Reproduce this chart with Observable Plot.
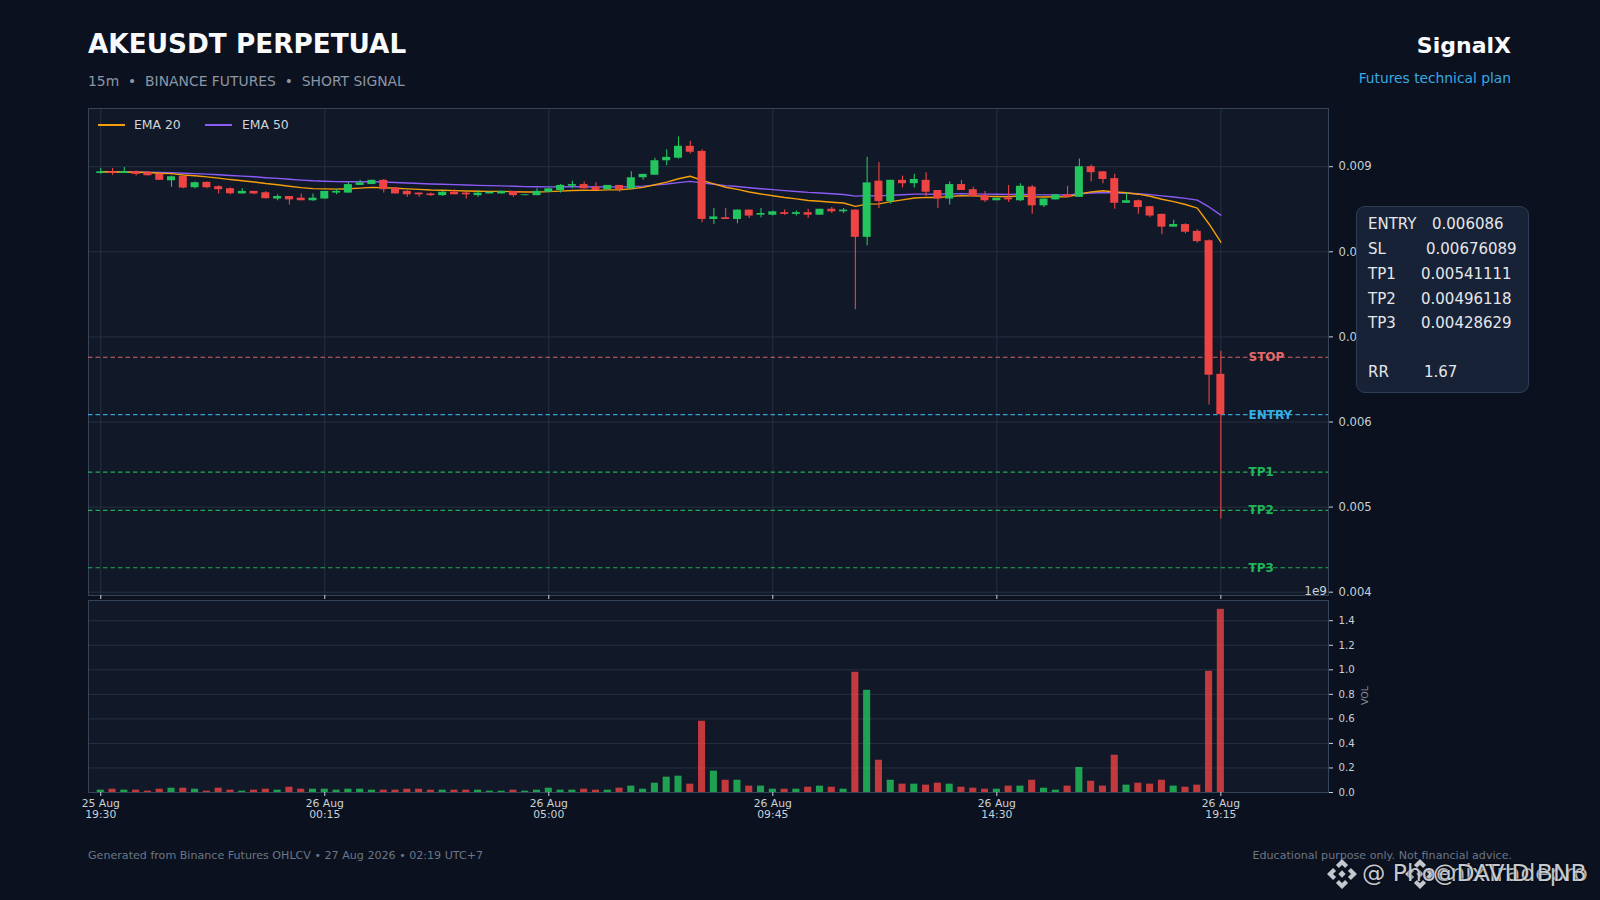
<!DOCTYPE html>
<html>
<head>
<meta charset="utf-8">
<script src="https://cdn.jsdelivr.net/npm/d3@7"></script>
<script src="https://cdn.jsdelivr.net/npm/@observablehq/plot@0.6"></script>
<style>
html,body{margin:0;padding:0;background:#0b111e;}
#page{position:relative;width:1600px;height:900px;overflow:hidden;background:#0b111e;font-family:"DejaVu Sans",sans-serif;}
.t{position:absolute;white-space:pre;}
#price,#vol{position:absolute;left:0;}
#price{top:100px;}
#vol{top:595px;}
</style>
</head>
<body>
<div id="page">
  <div id="price"></div>
  <div id="vol"></div>

  <div class="t" style="left:88px;top:29px;line-height:30px;font-size:26.3px;font-weight:bold;color:#f8fafc;">AKEUSDT PERPETUAL</div>
  <div class="t" style="left:88px;top:72px;line-height:18px;font-size:13.9px;color:#8b96a6;">15m  •  BINANCE FUTURES  •  SHORT SIGNAL</div>
  <div class="t" style="right:89px;top:33px;line-height:26px;font-size:22px;font-weight:bold;color:#f8fafc;">SignalX</div>
  <div class="t" style="right:89px;top:69px;line-height:18px;font-size:13.8px;color:#38a9e2;">Futures technical plan</div>

  <!-- legend -->
  <div style="position:absolute;left:98px;top:124px;width:27px;height:1.6px;background:#f59e0b;"></div>
  <div class="t" style="left:134px;top:117px;line-height:16px;font-size:12.4px;color:#d1d5db;">EMA 20</div>
  <div style="position:absolute;left:205px;top:124px;width:27px;height:1.6px;background:#8b5cf6;"></div>
  <div class="t" style="left:242px;top:117px;line-height:16px;font-size:12.4px;color:#d1d5db;">EMA 50</div>

  <!-- info box -->
  <div style="position:absolute;left:1356px;top:206px;width:171px;height:185px;border:1px solid #2f3d55;border-radius:9px;background:#172236;"></div>
  <div id="info"></div>

  <div class="t" style="right:273px;top:583px;line-height:16px;font-size:12px;color:#c9d1d9;">1e9</div>
  <div class="t" style="left:1357px;top:689px;line-height:16px;font-size:9.5px;color:#8b949e;transform:rotate(-90deg);transform-origin:8px 8px;">VOL</div>

  <div class="t" style="left:88px;top:848px;line-height:16px;font-size:11.1px;color:#6b7686;">Generated from Binance Futures OHLCV • 27 Aug 2026 • 02:19 UTC+7</div>
  <div class="t" style="right:88px;top:848px;line-height:16px;font-size:11.1px;color:#6b7686;">Educational purpose only. Not financial advice.</div>

  <!-- watermark -->
  <svg style="position:absolute;left:1326px;top:858px;" width="32" height="32" viewBox="-16 -16 32 32">
    <g fill="none" stroke="#d7dbe1" stroke-opacity="0.9" transform="rotate(45)">
      <rect x="-8.5" y="-8.5" width="17" height="17" stroke-width="4.2" stroke-dasharray="6.5 4 13 4 13 4 13 4 6.5"/>
      <rect x="-2.6" y="-2.6" width="5.2" height="5.2" fill="#d7dbe1" fill-opacity="0.9" stroke="none"/>
    </g>
  </svg>
  <svg style="position:absolute;left:1404px;top:858px;" width="32" height="32" viewBox="-16 -16 32 32">
    <g fill="none" stroke="#d7dbe1" stroke-opacity="0.9" transform="rotate(45)">
      <rect x="-8.5" y="-8.5" width="17" height="17" stroke-width="4.2" stroke-dasharray="6.5 4 13 4 13 4 13 4 6.5"/>
      <rect x="-2.6" y="-2.6" width="5.2" height="5.2" fill="#d7dbe1" fill-opacity="0.9" stroke="none"/>
    </g>
  </svg>
  <div class="t" style="left:1362px;top:858px;line-height:30px;font-size:23.4px;color:rgba(225,229,235,0.88);text-shadow:0 0 2px #000;">@ PhoenixTradepro</div>
  <div class="t" style="left:1433px;top:858px;line-height:30px;font-size:23.4px;color:rgba(225,229,235,0.88);text-shadow:0 0 2px #000;">@DAVID BNB</div>
</div>

<script>
// ---- data ----
const opens  = [0.00892,0.00894,0.00892,0.00894,0.00893,0.00891,0.008835,0.008886,0.008753,0.008816,
                0.008765,0.008741,0.00868,0.00871,0.008694,0.00862,0.00865,0.00863,0.00860,0.00862,
                0.00869,0.00869,0.00878,0.00879,0.00884,0.00875,0.00871,0.00869,0.00868,0.00866,
                0.00870,0.00869,0.00866,0.00868,0.00868,0.00871,0.00866,0.00866,0.00870,0.00872,
                0.00877,0.00879,0.00876,0.00873,0.00878,0.00874,0.00887,0.00890,0.00907,0.00910,
                0.00924,0.00918,0.00838,0.00840,0.00838,0.00849,0.00843,0.00843,0.00846,0.00844,
                0.00846,0.00843,0.00850,0.00847,0.00849,0.00817,0.00883,0.00859,0.00884,0.00880,
                0.00884,0.00872,0.00862,0.00879,0.00873,0.00866,0.00860,0.00863,0.00860,0.00876,
                0.00854,0.00861,0.00867,0.00864,0.00900,0.00894,0.00886,0.00857,0.00860,0.00853,
                0.00844,0.00829,0.00832,0.00824,0.00813,0.00656];
const highs  = [0.00898,0.00898,0.00899,0.00895,0.00894,0.00892,0.00889,0.00889,0.00882,0.00882,
                0.008776,0.00875,0.00874,0.00871,0.00871,0.00867,0.00865,0.00868,0.00868,0.00871,
                0.00873,0.00881,0.00884,0.00884,0.00885,0.00875,0.00872,0.00869,0.00869,0.00871,
                0.00873,0.00870,0.00872,0.00870,0.00871,0.00871,0.00867,0.00874,0.00875,0.00879,
                0.00883,0.00882,0.00881,0.00878,0.00878,0.00894,0.00891,0.00910,0.00920,0.00935,
                0.00930,0.00920,0.00851,0.00851,0.00849,0.00849,0.00851,0.00848,0.00849,0.00848,
                0.00850,0.00850,0.00852,0.00851,0.00849,0.00911,0.00905,0.00884,0.00889,0.00891,
                0.00893,0.00872,0.00882,0.00884,0.00876,0.00871,0.00863,0.00878,0.00880,0.00878,
                0.00862,0.00867,0.00877,0.00909,0.00902,0.00894,0.00891,0.00869,0.00861,0.00853,
                0.00844,0.00837,0.00833,0.00826,0.00814,0.00683];
const lows   = [0.00891,0.00890,0.00892,0.00889,0.00889,0.00884,0.008757,0.00874,0.00874,0.00874,
                0.00868,0.00867,0.00868,0.00867,0.00862,0.00860,0.00855,0.00860,0.00859,0.00862,
                0.00867,0.00869,0.00878,0.00879,0.00869,0.00868,0.00864,0.00864,0.00865,0.00865,
                0.00867,0.00862,0.00864,0.00868,0.00868,0.00864,0.00866,0.00866,0.00870,0.00869,
                0.00874,0.00874,0.00872,0.00873,0.00870,0.00873,0.00884,0.00890,0.00901,0.00909,
                0.00915,0.00834,0.00832,0.00838,0.00833,0.00839,0.00840,0.00842,0.00843,0.00842,
                0.00839,0.00843,0.00845,0.00845,0.00732,0.00807,0.00851,0.00856,0.00875,0.00875,
                0.00865,0.00851,0.00855,0.00872,0.00864,0.00858,0.00860,0.00858,0.00859,0.00844,
                0.00852,0.00861,0.00864,0.00864,0.00882,0.00880,0.00850,0.00857,0.00844,0.00840,
                0.00820,0.00829,0.00821,0.00810,0.00620,0.00486];
const closes = [0.00894,0.00892,0.00894,0.00891,0.008894,0.00884,0.008882,0.008749,0.008812,0.008753,
                0.00873,0.008682,0.00871,0.00868,0.008624,0.00865,0.00861,0.00860,0.00863,0.00871,
                0.00871,0.00879,0.00881,0.00884,0.00873,0.00868,0.00867,0.00867,0.00866,0.00870,
                0.00867,0.00867,0.00869,0.00870,0.00871,0.00866,0.00867,0.00871,0.00874,0.00878,
                0.00879,0.00874,0.00872,0.00878,0.00873,0.00887,0.00891,0.00907,0.00911,0.00924,
                0.00917,0.00838,0.00841,0.00838,0.00849,0.00842,0.00845,0.00847,0.00844,0.00846,
                0.00843,0.00850,0.00847,0.00849,0.00817,0.00881,0.00859,0.00884,0.00880,0.00885,
                0.00870,0.00862,0.00879,0.00872,0.00865,0.00860,0.00863,0.00861,0.00877,0.00854,
                0.00862,0.00867,0.00864,0.00900,0.00893,0.00885,0.00857,0.00860,0.00852,0.00842,
                0.00829,0.00832,0.00823,0.00812,0.00655,0.006086];
// volume in units of 1e9
const volumes = [0.019,0.027,0.019,0.019,0.011,0.027,0.035,0.035,0.027,0.011,
                 0.035,0.019,0.011,0.019,0.027,0.019,0.043,0.027,0.027,0.027,
                 0.019,0.027,0.027,0.019,0.019,0.019,0.027,0.027,0.019,0.019,
                 0.019,0.019,0.019,0.011,0.011,0.019,0.011,0.019,0.035,0.019,
                 0.019,0.027,0.019,0.019,0.035,0.052,0.027,0.076,0.125,0.133,
                 0.068,0.581,0.174,0.100,0.100,0.052,0.052,0.027,0.027,0.027,
                 0.043,0.052,0.043,0.027,0.980,0.833,0.263,0.100,0.068,0.068,
                 0.060,0.076,0.068,0.043,0.035,0.027,0.027,0.052,0.052,0.100,
                 0.035,0.019,0.052,0.204,0.092,0.052,0.304,0.060,0.076,0.068,
                 0.100,0.052,0.043,0.060,0.988,1.493];
const tickIndex  = [0, 19, 38, 57, 76, 95];
const tickLabels = ["25 Aug\n19:30","26 Aug\n00:15","26 Aug\n05:00","26 Aug\n09:45","26 Aug\n14:30","26 Aug\n19:15"];
const priceTicks = [0.004, 0.005, 0.006, 0.007, 0.008, 0.009];
const volTicks   = [0, 0.2, 0.4, 0.6, 0.8, 1.0, 1.2, 1.4];
const levelNames  = ["STOP", "ENTRY", "TP1", "TP2", "TP3"];
const levelValues = [0.00676089, 0.006086, 0.00541111, 0.00496118, 0.00428629];
const levelColors = ["#f87171", "#38bdf8", "#22c55e", "#22c55e", "#22c55e"];
const infoLabels = ["ENTRY", "SL", "TP1", "TP2", "TP3", "RR"];
const infoValues = ["0.006086", "0.00676089", "0.00541111", "0.00496118", "0.00428629", "1.67"];

const UP = "#22c55e", DOWN = "#ef4444";
const EMA20 = "#f59e0b", EMA50 = "#8b5cf6";

function ema(values, span) {
  const a = 2 / (span + 1); let prev;
  return values.map((v, k) => (prev = k === 0 ? v : a * v + (1 - a) * prev));
}
const ema20 = ema(closes, 20), ema50 = ema(closes, 50);

const candles = opens.map((o, i) => ({
  i, open: o, high: highs[i], low: lows[i], close: closes[i], vol: volumes[i],
  ema20: ema20[i], ema50: ema50[i], color: closes[i] >= o ? UP : DOWN
}));
const levels = levelNames.map((name, k) => ({name, value: levelValues[k], color: levelColors[k]}));

const xDomain = [-1.04, 104.13];
const GRID = "#263142", FRAME = "#36445a", AXIS = "#c9d1d9";
const baseStyle = {background: "transparent", fontFamily: "DejaVu Sans", fontSize: "10.5px", color: AXIS, overflow: "visible"};

const price = Plot.plot({
  width: 1600, height: 500,
  marginLeft: 88, marginRight: 272, marginTop: 8, marginBottom: 5,
  x: {domain: xDomain},
  y: {domain: [0.003961, 0.009684]},
  color: {type: "identity"},
  style: baseStyle,
  marks: [
    Plot.frame({fill: "#111827"}),
    Plot.gridX(tickIndex, {stroke: GRID, strokeOpacity: 1}),
    Plot.gridY(priceTicks, {stroke: GRID, strokeOpacity: 1}),
    Plot.frame({stroke: FRAME}),
    Plot.axisX(tickIndex, {tickSize: 4, tickFormat: () => "", label: null, stroke: AXIS}),
    Plot.axisY(priceTicks, {anchor: "right", tickSize: 4, tickPadding: 6, tickFormat: d3.format(".3f"), label: null, stroke: AXIS, fontSize: 11.6}),
    Plot.ruleY(levels, {y: "value", stroke: "color", strokeDasharray: "4.5,3", strokeWidth: 1.1, strokeOpacity: 0.85}),
    Plot.line(candles, {x: "i", y: "ema50", stroke: EMA50, strokeWidth: 1.4}),
    Plot.line(candles, {x: "i", y: "ema20", stroke: EMA20, strokeWidth: 1.4}),
    Plot.ruleX(candles, {x: "i", y1: "low", y2: "high", stroke: "color", strokeWidth: 1.1}),
    Plot.rect(candles, {x1: d => d.i - 0.34, x2: d => d.i + 0.34, y1: "open", y2: "close", fill: "color"}),
    Plot.text(levels, {frameAnchor: "right", dx: -80, y: "value", text: "name", fill: "color", textAnchor: "start", fontWeight: "bold", fontSize: 12, fillOpacity: 0.92})
  ]
});
document.getElementById("price").appendChild(price);

const vol = Plot.plot({
  width: 1600, height: 245,
  marginLeft: 88, marginRight: 272, marginTop: 5, marginBottom: 48,
  x: {domain: xDomain},
  y: {domain: [0, 1.565]},
  color: {type: "identity"},
  style: baseStyle,
  marks: [
    Plot.frame({fill: "#111827"}),
    Plot.gridY(volTicks, {stroke: GRID, strokeOpacity: 1}),
    Plot.rect(candles, {x1: d => d.i - 0.3, x2: d => d.i + 0.3, y1: 0, y2: "vol", fill: "color", fillOpacity: 0.8}),
    Plot.frame({stroke: FRAME}),
    Plot.axisX(tickIndex, {tickSize: 4, tickPadding: 3, lineHeight: 1.02, tickFormat: d => tickLabels[tickIndex.indexOf(d)], label: null, stroke: AXIS, fontSize: 10.8}),
    Plot.axisY(volTicks, {anchor: "right", tickSize: 4, tickPadding: 6, tickFormat: d3.format(".1f"), label: null, stroke: AXIS, fontSize: 10.2})
  ]
});
document.getElementById("vol").appendChild(vol);

// info box text
const info = document.getElementById("info");
const lineY = [224, 249, 274, 298.7, 323.3, 372.3];
const valueX = [1432, 1426, 1421, 1421, 1421, 1424];
infoLabels.forEach((lab, k) => {
  const a = document.createElement("div");
  a.className = "t";
  a.style.cssText = `left:1368px;top:${lineY[k] - 10}px;line-height:20px;font-size:15px;color:#e5e7eb;`;
  a.textContent = lab;
  info.appendChild(a);
  const b = document.createElement("div");
  b.className = "t";
  b.style.cssText = `left:${valueX[k]}px;top:${lineY[k] - 10}px;line-height:20px;font-size:15px;color:#e5e7eb;`;
  b.textContent = infoValues[k];
  info.appendChild(b);
});
</script>
</body>
</html>
